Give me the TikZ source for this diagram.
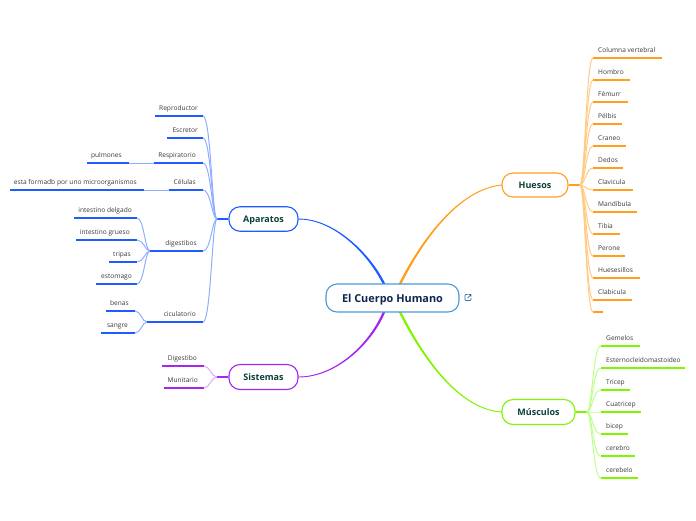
\documentclass[tikz,border=0pt]{standalone}
\usepackage{fontspec}
\usetikzlibrary{calc}
\setmainfont{Open Sans}
\definecolor{bluec}{HTML}{1F5CFF}
\definecolor{bluep}{HTML}{8FAEFF}
\definecolor{orangec}{HTML}{FF9F1C}
\definecolor{orangep}{HTML}{FFCB85}
\definecolor{greenc}{HTML}{80F500}
\definecolor{greenp}{HTML}{BEFF8C}
\definecolor{purplec}{HTML}{A526F0}
\definecolor{purplep}{HTML}{DDA8F7}
\definecolor{centerc}{HTML}{4A9BDC}
\definecolor{leaftxt}{HTML}{3A3A3A}
\definecolor{maintxt}{HTML}{0F2650}
\definecolor{toptxt}{HTML}{0C3F38}
\tikzset{
  x=1pt,y=-1pt,
  barline/.style={line width=1.5pt,line cap=butt},
  leaftext/.style={inner sep=0pt,text=leaftxt,font=\fontsize{6.6}{8}\selectfont},
  topnode/.style={draw,fill=white,rounded corners=11pt,line width=1.1pt,inner sep=0pt,text height=6.5pt,text depth=0pt,text=toptxt,font=\fontsize{9}{10}\selectfont\bfseries},
  maintie/.style={line width=0.9pt,line join=round},
  twig/.style={line width=1pt},
  stem/.style={line width=1.6pt}
}
% \leaf{name}{x1}{x2}{y}{colour}{anchor}{text x}{text}
\newcommand{\leaf}[8]{%
  \coordinate (#1-a) at (#2,#4);
  \coordinate (#1-b) at (#3,#4);
  \draw[barline,color=#5] (#1-a) -- (#1-b);
  \node[leaftext,anchor=base #6] (#1) at ([yshift=5.7pt]#1-a -| #7,0) {#8};
}
\begin{document}
\begin{tikzpicture}
\useasboundingbox (0,0) rectangle (696,520);
% hubs
\coordinate (hubH) at (580,185);
\coordinate (hubM) at (587,412);
\coordinate (hubA) at (217,219);
\coordinate (hubS) at (217,377);
\coordinate (hubD) at (150,251);
\coordinate (hubC) at (147,322);
% central connector ends
\coordinate (cNW) at (384,284);
\coordinate (cNE) at (400,284);
\coordinate (cSW) at (384,312);
\coordinate (cSE) at (400,312);
% Top nodes
\node[topnode,draw=bluec,minimum width=69pt,minimum height=24.5pt] (apa) at (263.5,219) {Aparatos};
\node[topnode,draw=purplec,minimum width=69pt,minimum height=25pt] (sis) at (263.5,377) {Sistemas};
\node[topnode,draw=orangec,minimum width=66pt,minimum height=24pt] (hue) at (535,185) {Huesos};
\node[topnode,draw=greenc,minimum width=73pt,minimum height=25pt] (mus) at (538.5,412) {Músculos};
% Main connectors (tapering towards the branch nodes)
\draw[maintie,orangec,fill=orangec] ($(cNE)+(-.8,0)$) .. controls (417.4,247.8) and (455,190) .. (hue.west) .. controls (455,190) and (418.6,248.2) .. ($(cNE)+(.8,0)$) -- cycle;
\draw[maintie,greenc,fill=greenc] ($(cSE)+(-.8,0)$) .. controls (417.4,348.2) and (455,409) .. (mus.west) .. controls (455,409) and (418.6,347.8) .. ($(cSE)+(.8,0)$) -- cycle;
\draw[maintie,bluec,fill=bluec] ($(cNW)+(-.8,0)$) .. controls (369.4,255.2) and (335,219) .. (apa.east) .. controls (335,219) and (370.6,254.8) .. ($(cNW)+(.8,0)$) -- cycle;
\draw[maintie,purplec,fill=purplec] ($(cSW)+(-.8,0)$) .. controls (369.4,344.8) and (335,377) .. (sis.east) .. controls (335,377) and (370.6,345.2) .. ($(cSW)+(.8,0)$) -- cycle;
\node[draw=centerc,fill=white,rounded corners=11pt,line width=1.1pt,minimum width=133pt,minimum height=28pt,inner sep=0pt,text height=8pt,text depth=0pt,text=maintxt,font=\fontsize{10.9}{12}\selectfont\bfseries] (cen) at (392.5,298) {El Cuerpo Humano};
% link icon
\draw[centerc!70!black,line width=0.7pt,rounded corners=0.8pt] (467.5,294.5) -- (465,294.5) -- (465,300.5) -- (471,300.5) -- (471,298);
\draw[centerc!70!black,line width=0.7pt] (467.5,298) -- (471,294.5) (468.5,294.5) -- (471,294.5) -- (471,296.5);
% Stems
\draw[stem,orangec] (hue.east |- hubH) -- (hubH);
\draw[stem,greenc] (mus.east |- hubM) -- (hubM);
\draw[stem,bluec] (apa.west |- hubA) -- (hubA);
\draw[stem,purplec] (sis.west |- hubS) -- (hubS);
% Huesos
\leaf{h1}{593}{662}{58}{orangec}{west}{598}{Columna vertebral}
\leaf{h2}{593}{630}{80}{orangec}{west}{598}{Hombro}
\leaf{h3}{593}{627.7}{102}{orangec}{west}{598}{Fémurr}
\leaf{h4}{593}{621.7}{124}{orangec}{west}{598}{Pélbis}
\leaf{h5}{593}{626}{146}{orangec}{west}{598}{Craneo}
\leaf{h6}{593}{623}{168}{orangec}{west}{598}{Dedos}
\leaf{h7}{593}{632.7}{190}{orangec}{west}{598}{Clavicula}
\leaf{h8}{593}{637}{212}{orangec}{west}{598}{Mandíbula}
\leaf{h9}{593}{620}{234}{orangec}{west}{598}{Tibia}
\leaf{h10}{593}{625}{256}{orangec}{west}{598}{Perone}
\leaf{h11}{593}{640}{278}{orangec}{west}{598}{Huesesillos}
\leaf{h12}{593}{631.7}{300}{orangec}{west}{598}{Clabicula}
\coordinate (h13-a) at (593,312);
\coordinate (h13-b) at (603,312);
\draw[barline,orangec] (h13-a) -- (h13-b);
\foreach \n in {1,...,13}{\draw[twig,orangep] (hubH) .. controls (585,185) and (586,0 |- h\n-a) .. (h\n-a);}
% Musculos
\leaf{m1}{600.7}{640}{346}{greenc}{west}{606}{Gemelos}
\leaf{m2}{600.7}{685}{368}{greenc}{west}{606}{Esternocleidomastoideo}
\leaf{m3}{600.7}{630}{390}{greenc}{west}{606}{Tricep}
\leaf{m4}{600.7}{641}{412}{greenc}{west}{606}{Cuatricep}
\leaf{m5}{600.7}{627.7}{434}{greenc}{west}{606}{bicep}
\leaf{m6}{600.7}{635}{456}{greenc}{west}{606}{cerebro}
\leaf{m7}{600.7}{638}{478}{greenc}{west}{606}{cerebelo}
\foreach \n in {1,...,7}{\draw[twig,greenp] (hubM) .. controls (592,412) and (593,0 |- m\n-a) .. (m\n-a);}
% Aparatos
\leaf{a1}{155}{203}{116}{bluec}{east}{198}{Reproductor}
\leaf{a2}{167}{203}{138}{bluec}{east}{198}{Escretor}
\leaf{a3}{154}{203}{163}{bluec}{east}{196}{Respiratorio}
\leaf{a4}{169}{203}{190}{bluec}{east}{196}{Células}
\leaf{a5}{162}{203}{251}{bluec}{east}{197}{digestibos}
\leaf{a6}{159}{203}{322}{bluec}{east}{196}{ciculatorio}
\foreach \n in {1,...,6}{\draw[twig,bluep] (hubA) .. controls (212,219) and (211,0 |- a\n-b) .. (a\n-b);}
% sub leaves
\leaf{p1}{87}{129}{163}{bluec}{east}{122}{pulmones}
\draw[twig,bluep] (p1-b) -- (a3-a);
\leaf{c1}{10}{144}{190}{bluec}{east}{137}{esta formadb por uno microorganismos}
\draw[twig,bluep] (c1-b) -- (a4-a);
\leaf{d1}{74}{137}{218}{bluec}{east}{132}{intestino delgado}
\leaf{d2}{76}{137}{240}{bluec}{east}{130}{intestino grueso}
\leaf{d3}{109}{137}{262}{bluec}{east}{131}{tripas}
\leaf{d4}{96}{137}{284}{bluec}{east}{132}{estomago}
\foreach \n in {1,...,4}{\draw[twig,bluep] (hubD) .. controls (145,251) and (144,0 |- d\n-b) .. (d\n-b);}
\draw[stem,bluec] (a5-a) -- (hubD);
\leaf{e1}{106}{135}{311}{bluec}{east}{129}{benas}
\leaf{e2}{101}{135}{333}{bluec}{east}{128}{sangre}
\foreach \n in {1,2}{\draw[twig,bluep] (hubC) .. controls (142,322) and (141,0 |- e\n-b) .. (e\n-b);}
\draw[stem,bluec] (a6-a) -- (hubC);
% Sistemas
\leaf{s1}{162}{204}{366}{purplec}{east}{197}{Digestibo}
\leaf{s2}{164}{204}{388}{purplec}{east}{198}{Munitario}
\foreach \n in {1,2}{\draw[twig,purplep] (hubS) .. controls (211,377) and (210,0 |- s\n-b) .. (s\n-b);}
\end{tikzpicture}
\end{document}
